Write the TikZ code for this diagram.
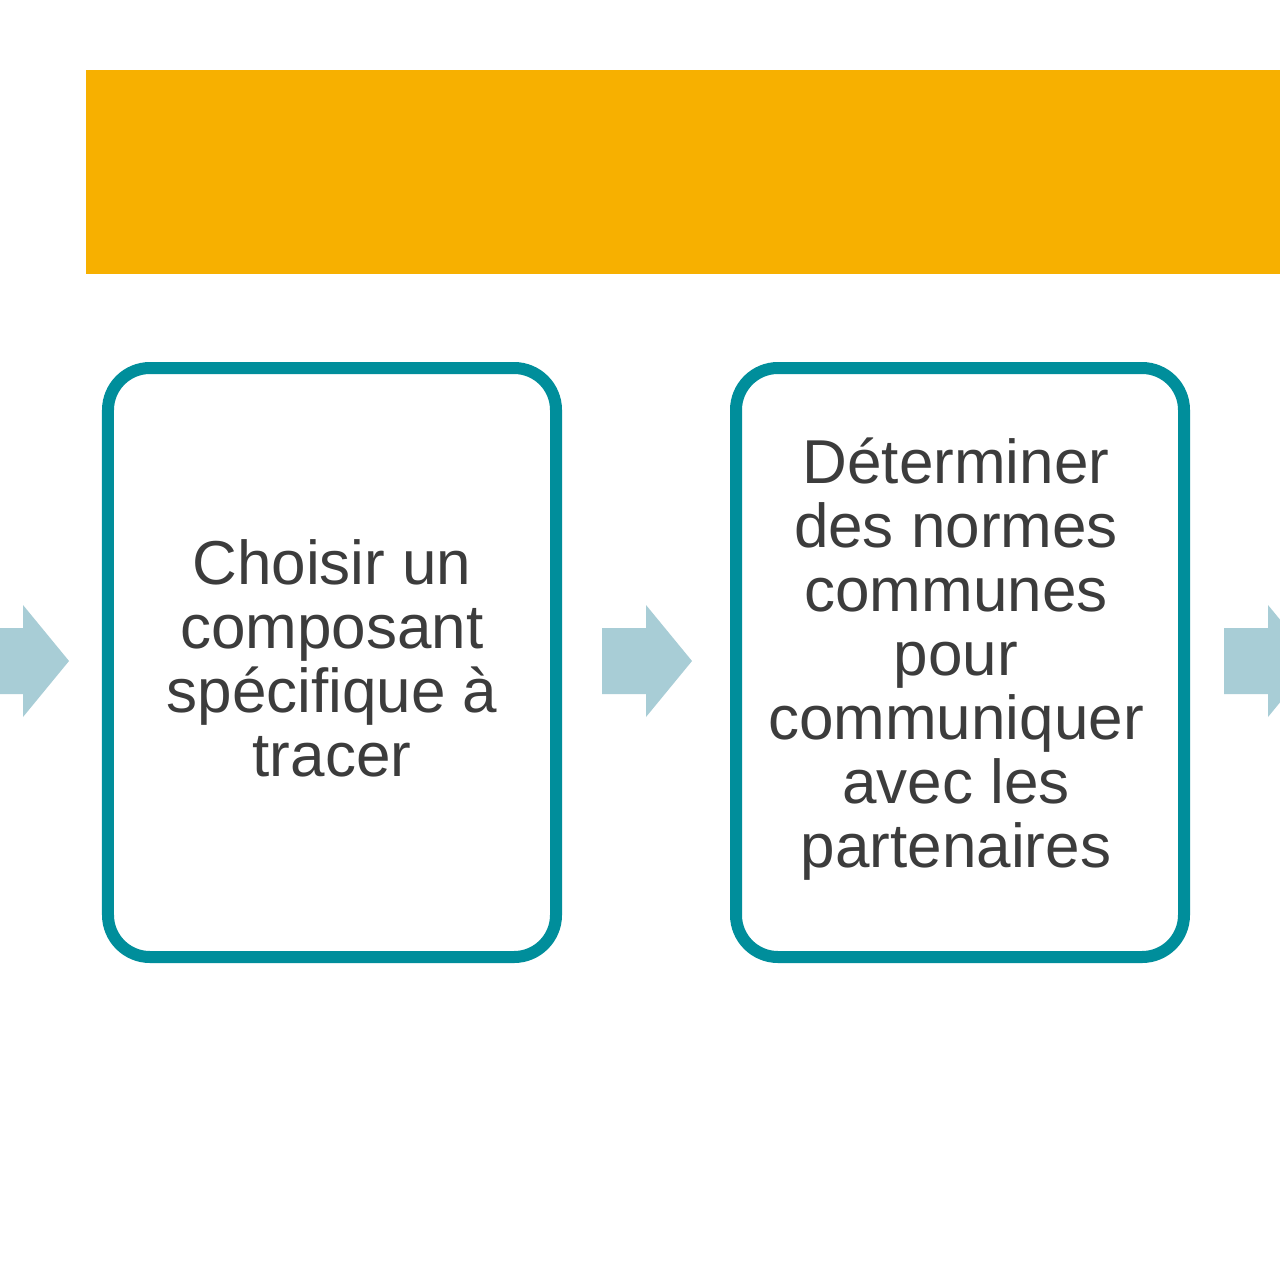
\documentclass[tikz,border=0pt]{standalone}
\usepackage{fontspec}
\setmainfont{Liberation Sans}
\definecolor{barorange}{HTML}{F7B000}
\definecolor{boxteal}{HTML}{008E9B}
\definecolor{arrowblue}{HTML}{A8CDD6}
\definecolor{textgray}{HTML}{3C3C3C}
\tikzset{
  stepbox/.style={draw=boxteal, line width=12bp, rounded corners=42bp, fill=white,
    minimum width=448bp, minimum height=589bp, inner sep=0pt},
  steptext/.style={align=center, text=textgray, font=\fontsize{62bp}{64bp}\selectfont, inner sep=0pt},
  bar/.style={fill=barorange, draw=none, minimum width=1300bp, minimum height=204bp, inner sep=0pt, anchor=north west},
  blockarrow/.pic={\fill[arrowblue] (0,-33) -- (44,-33) -- (44,-56) -- (90,0) -- (44,56) -- (44,33) -- (0,33) -- cycle;}
}
\begin{document}
\begin{tikzpicture}[x=1bp,y=-1bp]
\clip (0,0) rectangle (1280,1280);
\fill[white] (0,0) rectangle (1280,1280);
\node[bar] (bar) at (86,70) {};
\node[stepbox] (b1) at (332,662.5) {};
\node[steptext] (t1) at ([yshift=4bp]b1.center) {Choisir un\\composant\\spécifique à\\tracer};
\node[stepbox] (b2) at (960,662.5) {};
\node[steptext] (t2) at ([xshift=-4bp,yshift=3bp]b2.center) {Déterminer\\des normes\\communes\\pour\\communiquer\\avec les\\partenaires};
\coordinate (a0) at (-21,661);
\coordinate (a1) at (602,661);
\coordinate (a2) at (1224,661);
\pic at (a0) {blockarrow};
\pic at (a1) {blockarrow};
\pic at (a2) {blockarrow};
\end{tikzpicture}
\end{document}
